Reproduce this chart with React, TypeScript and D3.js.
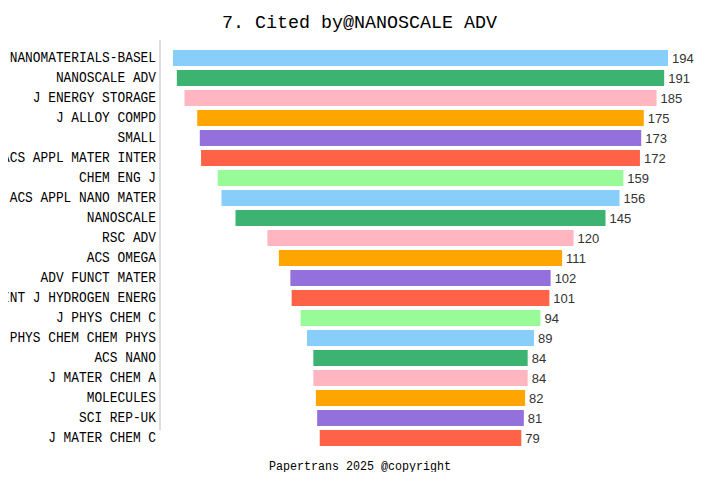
import React from 'react';
import * as d3 from 'd3';

const journals = [
  'NANOMATERIALS-BASEL', 'NANOSCALE ADV', 'J ENERGY STORAGE', 'J ALLOY COMPD', 'SMALL',
  'ACS APPL MATER INTER', 'CHEM ENG J', 'ACS APPL NANO MATER', 'NANOSCALE', 'RSC ADV',
  'ACS OMEGA', 'ADV FUNCT MATER', 'INT J HYDROGEN ENERG', 'J PHYS CHEM C', 'PHYS CHEM CHEM PHYS',
  'ACS NANO', 'J MATER CHEM A', 'MOLECULES', 'SCI REP-UK', 'J MATER CHEM C',
];
const citations = [194, 191, 185, 175, 173, 172, 159, 156, 145, 120, 111, 102, 101, 94, 89, 84, 84, 82, 81, 79];
const palette = ['#87CEFA', '#3CB371', '#FFB6C1', '#FFA500', '#9370DB', '#FF6347', '#98FB98'];

const W = 720;
const H = 480;
const mono = '"Liberation Mono", "DejaVu Sans Mono", monospace';

export default function App() {
  const center = 420.5;
  const y = d3.scaleBand<string>().domain(journals).range([48, 448]).paddingInner(0.2).paddingOuter(0.1);
  const w = d3.scaleLinear().domain([0, 194]).range([0, 495]);
  const charW = 7.7;

  return (
    <svg width={W} height={H} style={{ display: 'block', margin: '-8px', background: '#fff' }}>
      <text x={222} y={28} fontFamily={mono} fontSize={19} fill="#000"
        textLength={275} lengthAdjust="spacingAndGlyphs">
        7. Cited by@NANOSCALE ADV
      </text>
      <line x1={160} x2={160} y1={40} y2={430} stroke="#ddd" strokeWidth={2} />
      {journals.map((j, i) => {
        const cy = (y(j) ?? 0) + y.bandwidth() / 2;
        const bw = w(citations[i]);
        return (
          <g key={j}>
            <text x={156 - j.length * charW} y={cy + 3.5} fontFamily={mono} fontSize={14} fill="#000"
              textLength={j.length * charW} lengthAdjust="spacingAndGlyphs">
              {j}
            </text>
            <rect x={center - bw / 2} y={y(j)} width={bw} height={y.bandwidth()} fill={palette[i % palette.length]} />
            <text x={center + bw / 2 + 4} y={cy + 4.5} fontFamily='"Liberation Sans", sans-serif' fontSize={13} fill="#333">
              {citations[i]}
            </text>
          </g>
        );
      })}
      <text x={269} y={470} fontFamily={mono} fontSize={12.5} fill="#000"
        textLength={182} lengthAdjust="spacingAndGlyphs">
        Papertrans 2025 @copyright
      </text>
    </svg>
  );
}
